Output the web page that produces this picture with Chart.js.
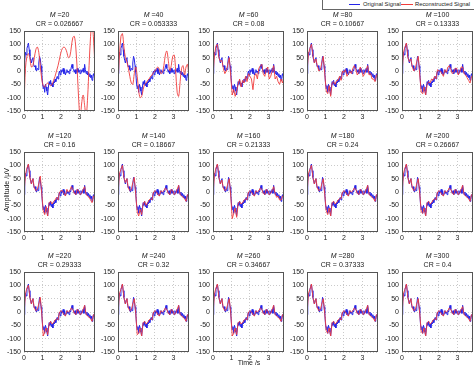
<!DOCTYPE html>
<html><head><meta charset="utf-8">
<script src="https://cdn.jsdelivr.net/npm/chart.js@4.4.0/dist/chart.umd.min.js"></script>
<style>
html,body{margin:0;padding:0;background:#fff;}
#wrap{position:relative;width:474px;height:367px;overflow:hidden;font-family:"Liberation Sans",Arial,sans-serif;color:#222;}
canvas{position:absolute;z-index:1;}
#legend{position:absolute;z-index:5;left:322px;top:-1px;width:160px;height:11px;border:1px solid #666;box-sizing:border-box;background:#fff;}
#legend .ln{position:absolute;top:4px;height:1px;}
#legend .tx{position:absolute;top:0px;font-size:5.8px;line-height:9px;white-space:nowrap;color:#222;}
#ylab{position:absolute;z-index:5;left:6px;top:190px;transform:translate(-50%,-50%) rotate(-90deg);font-size:7px;white-space:nowrap;color:#222;}
#xlab{position:absolute;z-index:5;left:249px;top:362px;transform:translate(-50%,-50%);font-size:7px;white-space:nowrap;color:#222;}
</style></head>
<body><div id="wrap">
<div id="legend"><span class="ln" style="left:26px;width:11px;background:#2424e8"></span><span class="tx" style="left:40px">Original Signal</span><span class="ln" style="left:78px;width:12px;background:#f03c3c"></span><span class="tx" style="left:92px">Reconstructed Signal</span></div>
<div id="ylab">Amplitude /μV</div>
<div id="xlab">Time /s</div>
</div>
<script>
// ---- data ----
const DT_BLUE = 0.04;   // sample spacing of original signal (s)
const DT_RED = 0.08;    // sample spacing of reconstructed signals (s)
const xTickLabels = [0, 1, 2, 3];
const yTickLabels = [150, 100, 50, 0, -50, -100, -150];
const mValues = [20, 40, 60, 80, 100, 120, 140, 160, 180, 200, 220, 240, 260, 280, 300];
const crLabels = ["0.026667","0.053333","0.08","0.10667","0.13333","0.16","0.18667","0.21333","0.24","0.26667","0.29333","0.32","0.34667","0.37333","0.4"];

const original = [-10,40,70,60,85,95,105,80,55,40,30,45,50,25,15,20,5,0,10,5,30,55,45,20,-5,-45,-65,-55,-80,-50,-60,-75,-90,-60,-40,-50,-35,-55,-45,-60,-40,-45,-30,-40,-25,-20,-30,-10,0,-15,5,-5,0,10,-10,5,-15,-5,5,-5,0,-10,5,0,15,25,10,5,-5,5,-10,0,10,-5,5,0,-10,5,-5,0,10,-5,25,5,-10,0,-15,-5,-20,-10,-25,-15,-35,-20,-10,-25,-15];

const rec20  = [-130,10,55,65,45,15,20,50,80,90,70,20,-30,-55,-60,-50,-45,-50,-55,-50,-35,-20,0,20,45,70,85,90,85,70,50,55,90,125,130,90,0,-110,-180,-120,-90,-130,-170,-100,20,130,180,120,10];
const rec40  = [-50,60,130,140,90,50,35,10,-20,-45,-50,-10,15,-20,-75,-100,-95,-70,-50,-45,-35,-30,-20,-15,-5,0,10,15,5,-10,-5,20,60,75,40,0,20,55,60,0,-80,-95,-40,10,20,-15,15,25,-30];
const rec60  = [-15,60,95,100,50,35,40,10,-10,0,25,50,-20,-90,-70,-95,-75,-50,-30,-60,-35,-45,-20,-40,-10,-20,-30,-70,-20,-10,-30,10,20,25,-10,-20,5,15,-30,-20,0,20,-30,-20,-40,-50,-30,-45,-20];
const rec80  = [-5,65,85,100,60,30,45,20,0,5,30,55,-10,-75,-85,-55,-95,-45,-40,-50,-35,-35,-20,-35,0,-5,5,-20,-10,0,-10,10,20,5,-15,-5,15,0,-20,-10,5,20,-15,-10,-30,-30,-40,-15,-20];
const rec100 = [-10,70,90,105,50,35,45,15,0,10,35,55,-15,-80,-85,-60,-90,-50,-40,-45,-30,-35,-20,-30,5,0,0,-10,-20,5,-5,15,20,5,-10,-5,10,10,-15,-5,15,15,-10,-15,-25,-35,-45,-20,-15];
const rec120 = [-5,65,90,105,55,30,50,15,5,10,30,60,-5,-70,-85,-55,-90,-40,-35,-45,-35,-30,-20,-30,0,5,5,-5,-15,10,0,5,20,10,-5,-10,10,5,-10,-5,10,20,-10,-15,-20,-30,-40,-15,-15];
const rec140 = [-10,70,85,100,55,35,50,15,5,10,35,55,-10,-75,-90,-65,-85,-45,-35,-50,-40,-30,-25,-30,0,5,0,-10,-15,5,0,5,15,10,-5,-10,10,5,-10,-5,10,25,-10,-15,-20,-25,-35,-10,-15];
const rec160 = [-10,65,90,105,55,30,45,15,5,10,30,50,-15,-100,-80,-60,-95,-45,-35,-45,-40,-30,-25,-30,0,5,0,-10,-15,5,0,5,15,10,-5,-10,10,5,-10,-5,5,20,-5,-20,-15,-30,-30,-15,-10];
const rec180 = [-10,70,85,100,55,30,50,15,5,10,30,50,-10,-70,-85,-60,-90,-40,-35,-45,-40,-30,-25,-25,0,5,0,-10,-15,5,0,5,15,10,-5,-10,10,5,-10,-5,10,25,-10,-15,-20,-25,-35,-10,-15];
const rec200 = [-10,70,90,105,55,30,50,15,5,10,30,50,-5,-75,-80,-60,-90,-40,-35,-45,-40,-30,-25,-30,0,5,0,-10,-15,5,0,5,15,10,-5,-10,10,5,-10,-5,10,25,-10,-15,-20,-25,-35,-10,-15];
const rec220 = [-10,70,90,100,55,30,50,15,5,10,30,55,-5,-90,-75,-60,-85,-45,-35,-45,-40,-30,-25,-30,0,5,0,-10,-15,5,0,5,15,10,-5,-10,10,5,-10,-5,10,25,-10,-15,-20,-25,-35,-10,-15];
const rec240 = [-10,70,85,105,55,30,50,15,5,10,30,50,-5,-85,-80,-60,-90,-40,-35,-45,-40,-30,-25,-30,0,5,0,-10,-15,5,0,5,15,10,-5,-10,10,5,-10,-5,10,25,-10,-15,-20,-25,-35,-10,-15];
const rec260 = [-10,70,90,105,55,30,50,15,5,10,30,50,-5,-90,-80,-60,-85,-40,-35,-45,-40,-30,-25,-30,0,5,0,-10,-15,5,0,5,15,10,-5,-10,10,5,-10,-5,10,25,-10,-15,-20,-25,-35,-10,-15];
const rec280 = [-10,70,85,105,55,30,50,15,5,10,30,50,-5,-70,-80,-60,-90,-40,-35,-45,-40,-30,-25,-30,0,5,0,-10,-15,5,0,5,15,10,-5,-10,10,5,-10,-5,10,25,-10,-15,-20,-25,-35,-10,-15];
const rec300 = [-10,70,85,105,55,30,50,15,5,10,30,50,-5,-75,-80,-60,-90,-40,-35,-45,-40,-30,-25,-30,0,5,0,-10,-15,5,0,5,15,10,-5,-10,10,5,-10,-5,10,20,-10,-15,-20,-25,-35,-10,-15];
const reconstructed = [rec20,rec40,rec60,rec80,rec100,rec120,rec140,rec160,rec180,rec200,rec220,rec240,rec260,rec280,rec300];

// ---- layout ----
const FONT = '"Liberation Sans", Arial, sans-serif';
const colLeft = [24, 118, 213, 307, 402];
const rowTop = [31, 152, 272];
const PW = 71, PH = 80, YW = 24, PT = 32, XH = 12, PR = 2;

const boxPlugin = {
  id: 'box',
  afterDraw(chart) {
    const a = chart.chartArea, ctx = chart.ctx;
    ctx.save();
    ctx.strokeStyle = '#555'; ctx.lineWidth = 1;
    ctx.strokeRect(Math.round(a.left) + 0.5, Math.round(a.top) + 0.5, Math.round(a.right - a.left) - 1, Math.round(a.bottom - a.top) - 1);
    const p = chart.options.plugins.panelTitle;
    const cx = (a.left + a.right) / 2;
    ctx.fillStyle = '#222'; ctx.textBaseline = 'middle';
    ctx.font = 'italic 7px ' + FONT;
    const wM = ctx.measureText('M').width;
    ctx.font = '7px ' + FONT;
    const rest = ' =' + p.m;
    const wR = ctx.measureText(rest).width;
    const x0 = cx - (wM + wR) / 2;
    ctx.textAlign = 'left';
    ctx.font = 'italic 7px ' + FONT; ctx.fillText('M', x0, a.top - 16);
    ctx.font = '7px ' + FONT; ctx.fillText(rest, x0 + wM, a.top - 16);
    ctx.textAlign = 'center';
    ctx.fillText('CR = ' + p.cr, cx, a.top - 7);
    ctx.restore();
  }
};

const wrap = document.getElementById('wrap');
mValues.forEach((m, k) => {
  const r = Math.floor(k / 5), c = k % 5;
  const cv = document.createElement('canvas');
  const w = YW + PW + PR, h = PT + PH + XH;
  cv.width = w; cv.height = h;
  cv.style.left = (colLeft[c] - YW) + 'px';
  cv.style.top = (rowTop[r] - PT) + 'px';
  cv.style.width = w + 'px'; cv.style.height = h + 'px';
  wrap.appendChild(cv);
  const smooth = k < 2;
  new Chart(cv, {
    type: 'line',
    data: { datasets: [
      { label: 'Original Signal', data: original.map((v, i) => ({ x: i * DT_BLUE, y: v })),
        borderColor: '#2424e8', borderWidth: 1, pointRadius: 0, tension: 0, order: 1 },
      { label: 'Reconstructed Signal', data: reconstructed[k].map((v, i) => ({ x: i * DT_RED, y: v })),
        borderColor: '#f03c3c', borderWidth: 0.9, pointRadius: 0, tension: smooth ? 0.35 : 0, order: 0 }
    ]},
    options: {
      responsive: false, animation: false, events: [], devicePixelRatio: 1,
      layout: { padding: { top: PT, right: PR, left: 0, bottom: 0 } },
      plugins: { legend: { display: false }, tooltip: { enabled: false }, panelTitle: { m: m, cr: crLabels[k] } },
      scales: {
        x: { type: 'linear', min: 0, max: 3.84,
          afterBuildTicks: s => { s.ticks = xTickLabels.map(v => ({ value: v })); },
          afterFit: s => { s.height = XH; },
          ticks: { font: { size: 7, family: FONT }, color: '#222', padding: 2, maxRotation: 0, autoSkip: false },
          grid: { color: '#bdbdbd', lineWidth: 0.8, drawTicks: false },
          border: { display: false, dash: [1, 2] } },
        y: { type: 'linear', min: -150, max: 150,
          afterBuildTicks: s => { s.ticks = yTickLabels.map(v => ({ value: v })); },
          afterFit: s => { s.width = YW; },
          ticks: { font: { size: 7, family: FONT }, color: '#222', padding: 3, autoSkip: false },
          grid: { color: '#bdbdbd', lineWidth: 0.8, drawTicks: false },
          border: { display: false, dash: [1, 2] } }
      }
    },
    plugins: [boxPlugin]
  });
});
</script>
</body></html>
